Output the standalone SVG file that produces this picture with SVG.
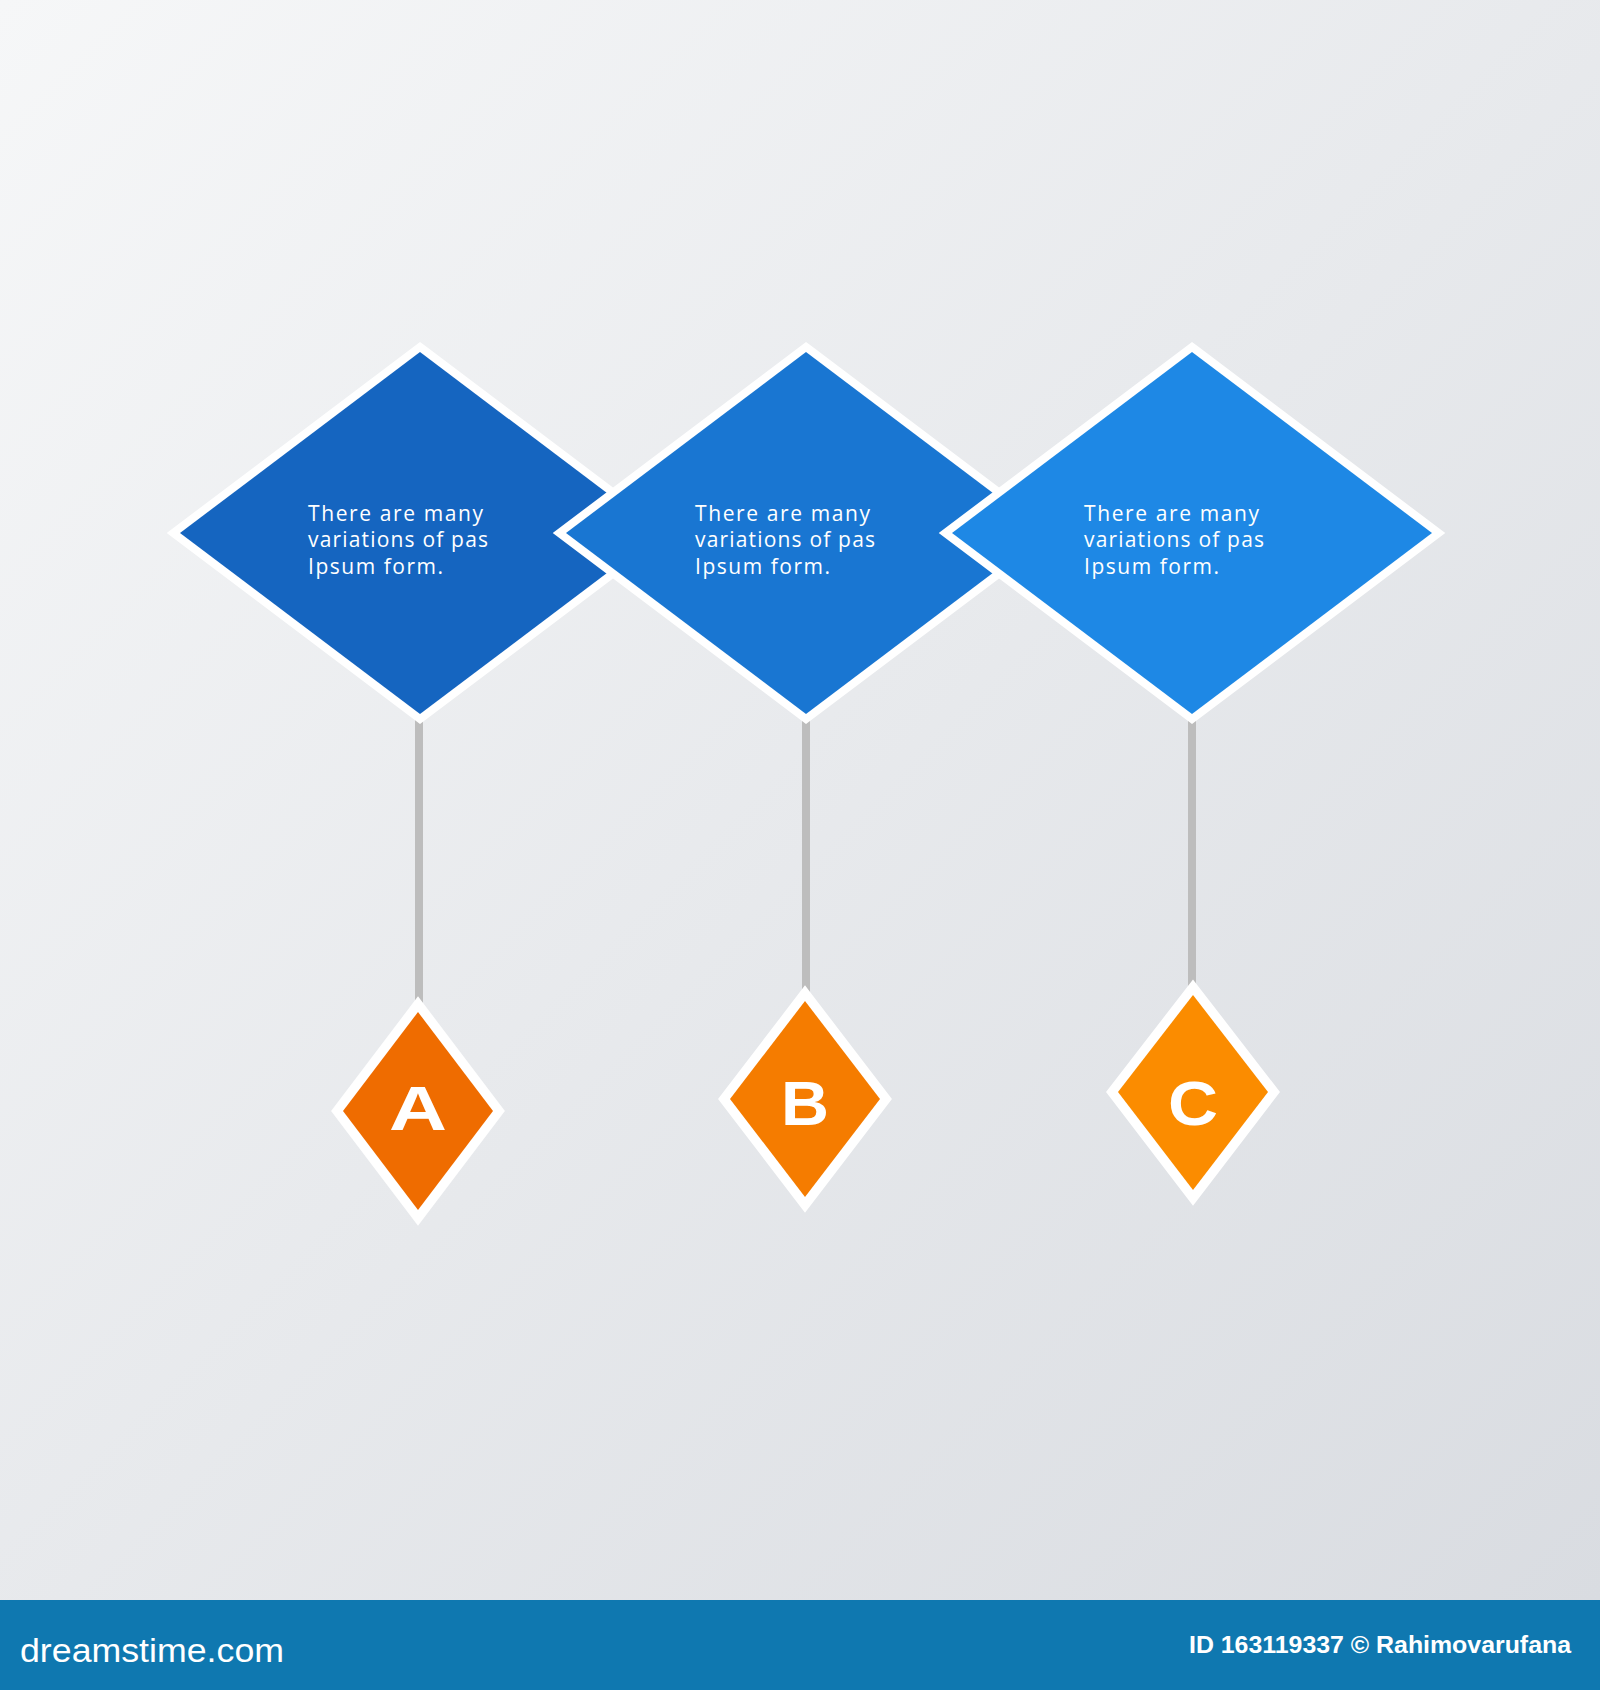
<svg xmlns="http://www.w3.org/2000/svg" width="1600" height="1690" viewBox="0 0 1600 1690">
<defs>
<linearGradient id="bg" x1="0" y1="0" x2="1" y2="1">
<stop offset="0" stop-color="#f6f7f8"/>
<stop offset="1" stop-color="#d9dce1"/>
</linearGradient>
</defs>
<style>
.big{stroke:#ffffff;stroke-width:16;stroke-linejoin:miter;paint-order:stroke}
.small{stroke:#ffffff;stroke-width:19;stroke-linejoin:miter;paint-order:stroke}
.conn{stroke:#bdbdbd;stroke-width:8;fill:none}
.desc{font-family:"Open Sans","Liberation Sans",sans-serif;font-size:21px;fill:#ffffff}
.letter{font-family:"Liberation Sans","DejaVu Sans",sans-serif;font-weight:bold;font-size:63px;fill:#ffffff}
.foot{font-family:"Liberation Sans",sans-serif;fill:#ffffff}
</style>
<rect x="0" y="0" width="1600" height="1600" fill="url(#bg)"/>
<g id="connectors">
<line class="conn" x1="419" y1="714" x2="419" y2="1012"/>
<line class="conn" x1="806" y1="714" x2="806" y2="1000"/>
<line class="conn" x1="1192" y1="714" x2="1192" y2="994"/>
</g>
<g id="node-1">
<polygon class="big" fill="#1565c0" points="420,352 660,533 420,714 180,533"/>
<text class="desc" x="308" y="521" textLength="175" lengthAdjust="spacing">There are many</text>
<text class="desc" x="308" y="547" textLength="180" lengthAdjust="spacing">variations of pas</text>
<text class="desc" x="308" y="574" textLength="135" lengthAdjust="spacing">Ipsum form.</text>
</g>
<g id="node-2">
<polygon class="big" fill="#1976d2" points="806,352 1046,533 806,714 566,533"/>
<text class="desc" x="695" y="521" textLength="175" lengthAdjust="spacing">There are many</text>
<text class="desc" x="695" y="547" textLength="180" lengthAdjust="spacing">variations of pas</text>
<text class="desc" x="695" y="574" textLength="135" lengthAdjust="spacing">Ipsum form.</text>
</g>
<g id="node-3">
<polygon class="big" fill="#1e88e5" points="1192,352 1432,533 1192,714 952,533"/>
<text class="desc" x="1084" y="521" textLength="175" lengthAdjust="spacing">There are many</text>
<text class="desc" x="1084" y="547" textLength="180" lengthAdjust="spacing">variations of pas</text>
<text class="desc" x="1084" y="574" textLength="135" lengthAdjust="spacing">Ipsum form.</text>
</g>
<g id="node-A">
<polygon class="small" fill="#ef6c00" points="418,1012 493,1111 418,1210 343,1111"/>
<text class="letter" x="418" y="1130" text-anchor="middle" textLength="58" lengthAdjust="spacingAndGlyphs">A</text>
</g>
<g id="node-B">
<polygon class="small" fill="#f57c00" points="805,1001 880,1099 805,1197 730,1099"/>
<text class="letter" x="805" y="1125" text-anchor="middle" textLength="48" lengthAdjust="spacingAndGlyphs">B</text>
</g>
<g id="node-C">
<polygon class="small" fill="#fb8c00" points="1193,995 1268,1092 1193,1190 1118,1092"/>
<text class="letter" x="1193" y="1125" text-anchor="middle" textLength="50" lengthAdjust="spacingAndGlyphs">C</text>
</g>
<g id="footer">
<rect x="0" y="1600" width="1600" height="90" fill="#0f78b0"/>
<text class="foot" x="20" y="1662" font-family="DejaVu Sans, sans-serif" font-size="33" textLength="264" lengthAdjust="spacingAndGlyphs">dreamstime.com</text>
<text class="foot" x="1189" y="1653" font-size="23" font-weight="bold" textLength="382" lengthAdjust="spacingAndGlyphs">ID 163119337 © Rahimovarufana</text>
</g>
</svg>
